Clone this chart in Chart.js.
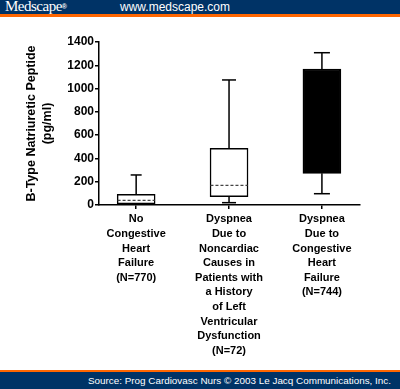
<!DOCTYPE html>
<html>
<head>
<meta charset="utf-8">
<script src="https://cdn.jsdelivr.net/npm/chart.js@4.4.1/dist/chart.umd.min.js"></script>
<style>
    body { margin: 0; width: 400px; height: 389px; position: relative; background: #fff; overflow: hidden; font-family: "Liberation Sans", Arial, sans-serif; }
    #head { position: absolute; left: 0; top: 0; width: 400px; height: 14px; background: #003366; border-bottom: 3px solid #f60; color: #fff; }
    #logo { position: absolute; left: 5px; top: -1px; font: 15px/15px "Liberation Serif", serif; letter-spacing: -0.5px; }
    #logo sup { font: bold 7px "Liberation Sans", sans-serif; vertical-align: 2px; }
    #url { position: absolute; left: 120px; top: 0px; font-size: 12px; line-height: 14px; }
    #foot { position: absolute; left: 0; top: 370px; width: 400px; height: 17px; background: #003366; border-top: 2px solid #f60; color: #fff; }
    #src { position: absolute; right: 9px; top: 2px; font-size: 9.9px; line-height: 13px; }
    #box { position: absolute; left: 0; top: 17px; width: 400px; height: 353px; }
</style>
</head>
<body>
<div id="head"><span id="logo">Medscape<sup>®</sup></span><span id="url">www.medscape.com</span></div>
<div id="box"><canvas id="myChart" width="400" height="353"></canvas></div>
<div id="foot"><span id="src">Source: Prog Cardiovasc Nurs © 2003 Le Jacq Communications, Inc.</span></div>
<script>
// groups along the x axis
const categories = [
    ['No', 'Congestive', 'Heart', 'Failure', '(N=770)'],
    ['Dyspnea', 'Due to', 'Noncardiac', 'Causes in', 'Patients with', 'a History', 'of Left', 'Ventricular', 'Dysfunction', '(N=72)'],
    ['Dyspnea', 'Due to', 'Congestive', 'Heart', 'Failure', '(N=744)']
];
const xPos = [1, 2, 3];
// box plot values, pg/ml
const whiskerLow = [0, 20, 97];
const quart1 = [10, 71, 272];
const medians = [40, 169, null];
const quart3 = [92, 487, 1168];
const whiskerHigh = [258, 1074, 1308];
const yTicks = [0, 200, 400, 600, 800, 1000, 1200, 1400];

Chart.defaults.font.family = '"Liberation Sans", Arial, sans-serif';
Chart.defaults.color = '#000';

function segments(from, to) {
    const pts = [];
    xPos.forEach(function (x, i) {
        pts.push({ x: x, y: from[i] }, { x: x, y: to[i] }, { x: x, y: null });
    });
    return pts;
}
const medianPts = [];
xPos.forEach(function (x, i) {
    if (medians[i] === null) return;
    medianPts.push({ x: x - 0.2, y: medians[i] }, { x: x + 0.2, y: medians[i] }, { x: x, y: null });
});
// cap only on the far end of each whisker, caps get wider left to right
const capSizes = [5.5, 7, 8];
const capRadius = function (c) { return c.dataIndex % 3 === 1 ? capSizes[Math.floor(c.dataIndex / 3)] : 0; };

const ctx = document.getElementById('myChart');
new Chart(ctx, {
    type: 'bar',
    data: {
        datasets: [{
            type: 'bar',
            data: xPos.map(function (x, i) { return { x: x, y: [quart1[i], quart3[i]] }; }),
            backgroundColor: ['#fff', '#fff', '#000'],
            borderColor: '#000',
            borderWidth: 1.5,
            borderSkipped: false,
            barThickness: 38,
            order: 1
        }, {
            type: 'line',
            data: segments(quart3, whiskerHigh),
            borderColor: '#000',
            borderWidth: 1.5,
            pointStyle: 'line',
            pointRadius: capRadius,
            pointBorderColor: '#000',
            pointBorderWidth: 1.5,
            spanGaps: false,
            order: 2
        }, {
            type: 'line',
            data: segments(quart1, whiskerLow),
            borderColor: '#000',
            borderWidth: 1.5,
            pointStyle: 'line',
            pointRadius: capRadius,
            pointBorderColor: '#000',
            pointBorderWidth: 1.5,
            spanGaps: false,
            order: 2
        }, {
            type: 'line',
            data: medianPts,
            borderColor: '#444',
            borderWidth: 1.2,
            borderDash: [3, 2],
            pointRadius: 0,
            spanGaps: false,
            order: 0
        }]
    },
    options: {
        responsive: false,
        animation: false,
        layout: { padding: { left: 0, right: 40, top: 25, bottom: 0 } },
        plugins: { legend: { display: false }, tooltip: { enabled: false } },
        scales: {
            x: {
                type: 'linear',
                offset: false,
                min: 0.6,
                max: 3.41,
                afterFit: function (s) { s.height = 165; },
                afterBuildTicks: function (s) { s.ticks = xPos.map(function (v) { return { value: v }; }); },
                grid: { offset: false, drawOnChartArea: false, drawTicks: true, tickLength: 4, color: '#000', lineWidth: 1.5 },
                border: { display: true, color: '#000', width: 1.5 },
                ticks: {
                    autoSkip: false,
                    maxRotation: 0,
                    padding: 3,
                    font: { size: 11, weight: 'bold', lineHeight: 1.33 },
                    callback: function (v, i) { return categories[i]; }
                }
            },
            y: {
                min: 0,
                max: 1400,
                afterFit: function (s) { s.width = 99; },
                afterBuildTicks: function (s) { s.ticks = yTicks.map(function (v) { return { value: v }; }); },
                grid: { drawOnChartArea: false, drawTicks: true, tickLength: 4, color: '#000', lineWidth: 1.5 },
                border: { display: true, color: '#000', width: 1.5 },
                ticks: { padding: 1, font: { size: 12, weight: 'bold' }, callback: function (v) { return String(v); } },
                title: {
                    display: true,
                    text: ['B-Type Natriuretic Peptide', '(pg/ml)'],
                    padding: { top: 24, bottom: 0 },
                    font: { size: 12.5, weight: 'bold', lineHeight: 1.28 }
                }
            }
        }
    }
});
</script>
</body>
</html>
